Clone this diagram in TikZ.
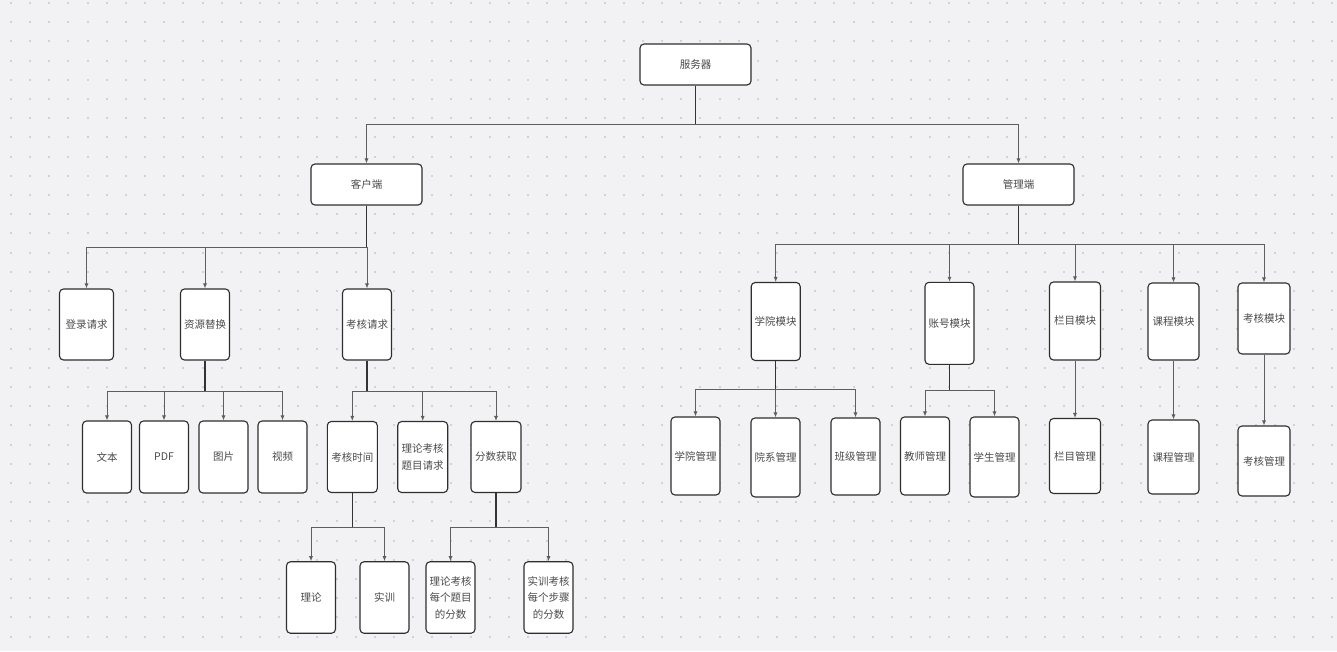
\documentclass[tikz,border=0pt]{standalone}
\usepackage{fontspec}
\setmainfont{Noto Sans CJK SC}
\usetikzlibrary{arrows.meta}
\definecolor{bgc}{HTML}{F2F2F4}
\definecolor{dotc}{HTML}{D2D2D6}
\definecolor{boxc}{HTML}{2E2E2E}
\definecolor{txtc}{HTML}{4A4A4A}
\definecolor{linec}{HTML}{5E5E5E}
\definecolor{stemc}{HTML}{333333}
\tikzset{
  box/.style={draw=boxc, fill=white, rounded corners=4pt, line width=1.1pt, inner sep=0pt,
    text=txtc, align=center, font=\fontsize{10.5}{16.5}\selectfont},
  arr/.style={draw=linec, line width=0.8pt, -{Latex[length=5pt,width=4pt]}},
  stem/.style={draw=stemc, line width=1.3pt},
}
\begin{document}
\begin{tikzpicture}[x=1pt,y=-1pt]
\useasboundingbox (0,0) rectangle (1337,651);
\fill[bgc] (0,0) rectangle (1337,651);
\foreach \i in {0,...,69} {
  \foreach \j in {0,...,33} {
    \fill[dotc] ({10+\i*19.15},{2+\j*19.2}) rectangle ++(2,2);
  }
}
% level 1
\node[box, minimum width=111pt, minimum height=41pt] (server) at (695.5,64.5) {服务器};
% level 2
\node[box, minimum width=111pt, minimum height=41pt] (client) at (366.5,184.5) {客户端};
\node[box, minimum width=111pt, minimum height=41pt] (admin) at (1018.5,184.5) {管理端};
% client children
\node[box, minimum width=54pt, minimum height=71pt] (login) at (86.5,324.5) {登录请求};
\node[box, minimum width=49pt, minimum height=71pt] (res) at (205,324.5) {资源替换};
\node[box, minimum width=49pt, minimum height=71pt] (exam) at (367,324.5) {考核请求};
% res children
\node[box, minimum width=49pt, minimum height=72pt] (txt) at (107,457) {文本};
\node[box, minimum width=49pt, minimum height=72pt] (pdf) at (164,457) {PDF};
\node[box, minimum width=49pt, minimum height=72pt] (pic) at (223.5,457) {图片};
\node[box, minimum width=49pt, minimum height=72pt] (vid) at (282.5,457) {视频};
% exam children
\node[box, minimum width=50pt, minimum height=71pt] (etime) at (352.3,457) {考核时间};
\node[box, minimum width=50pt, minimum height=71pt] (tq) at (422.7,457) {理论考核\\题目请求};
\node[box, minimum width=50pt, minimum height=71pt] (score) at (496,457) {分数获取};
% level 4
\node[box, minimum width=49pt, minimum height=71.5pt] (theory) at (311,597.5) {理论};
\node[box, minimum width=49pt, minimum height=71.5pt] (prac) at (384.5,597.5) {实训};
\node[box, minimum width=49pt, minimum height=71.5pt] (sa) at (450.5,597.5) {理论考核\\每个题目\\的分数};
\node[box, minimum width=49pt, minimum height=71.5pt] (sb) at (548.5,597.5) {实训考核\\每个步骤\\的分数};
% admin children
\node[box, minimum width=49pt, minimum height=78pt] (xy) at (775.7,321.5) {学院模块};
\node[box, minimum width=49pt, minimum height=82pt] (zh) at (949.5,323.3) {账号模块};
\node[box, minimum width=51pt, minimum height=78pt] (lm) at (1075,321) {栏目模块};
\node[box, minimum width=51pt, minimum height=77pt] (kc) at (1173.5,321.5) {课程模块};
\node[box, minimum width=52pt, minimum height=71pt] (kh) at (1264,318.5) {考核模块};
% admin grandchildren
\node[box, minimum width=49pt, minimum height=78pt] (xyM) at (695.5,456) {学院管理};
\node[box, minimum width=49pt, minimum height=79pt] (yxM) at (775.5,457.5) {院系管理};
\node[box, minimum width=49pt, minimum height=77pt] (bjM) at (855.5,456.5) {班级管理};
\node[box, minimum width=49pt, minimum height=78pt] (jsM) at (925,456) {教师管理};
\node[box, minimum width=49pt, minimum height=80pt] (xsM) at (994.5,457) {学生管理};
\node[box, minimum width=51pt, minimum height=75pt] (lmM) at (1075,456) {栏目管理};
\node[box, minimum width=51pt, minimum height=74pt] (kcM) at (1173.5,457) {课程管理};
\node[box, minimum width=52pt, minimum height=70pt] (khM) at (1264,461) {考核管理};
% junctions
\coordinate (jS) at (695.5,124);
\coordinate (jC) at (366.5,247);
\coordinate (jR) at (205,391);
\coordinate (jE) at (367,391);
\coordinate (jT) at (352.3,527);
\coordinate (jSc) at (496,527);
\coordinate (jA) at (1018.5,244);
\coordinate (jX) at (775.7,389);
\coordinate (jZ) at (949.5,390);
% connectors
\draw[stem] (server) -- (jS);
\draw[arr] (jS) -| (client);
\draw[arr] (jS) -| (admin);
\draw[stem] (client) -- (jC);
\draw[arr] (jC) -| (login);
\draw[arr] (jC) -| (res);
\draw[arr] (jC) -| (exam);
\draw[stem] (res) -- (jR);
\draw[arr] (jR) -| (txt);
\draw[arr] (jR) -| (pdf);
\draw[arr] (jR) -| (pic);
\draw[arr] (jR) -| (vid);
\draw[stem] (exam) -- (jE);
\draw[arr] (jE) -| (etime);
\draw[arr] (jE) -| (tq);
\draw[arr] (jE) -| (score);
\draw[stem] (etime) -- (jT);
\draw[arr] (jT) -| (theory);
\draw[arr] (jT) -| (prac);
\draw[stem] (score) -- (jSc);
\draw[arr] (jSc) -| (sa);
\draw[arr] (jSc) -| (sb);
\draw[stem] (admin) -- (jA);
\draw[arr] (jA) -| (xy);
\draw[arr] (jA) -| (zh);
\draw[arr] (jA) -| (lm);
\draw[arr] (jA) -| (kc);
\draw[arr] (jA) -| (kh);
\draw[stem] (xy) -- (jX);
\draw[arr] (jX) -| (xyM);
\draw[arr] (jX) -| (yxM);
\draw[arr] (jX) -| (bjM);
\draw[stem] (zh) -- (jZ);
\draw[arr] (jZ) -| (jsM);
\draw[arr] (jZ) -| (xsM);
\draw[arr] (lm) -- (lmM);
\draw[arr] (kc) -- (kcM);
\draw[arr] (kh) -- (khM);
\end{tikzpicture}
\end{document}
